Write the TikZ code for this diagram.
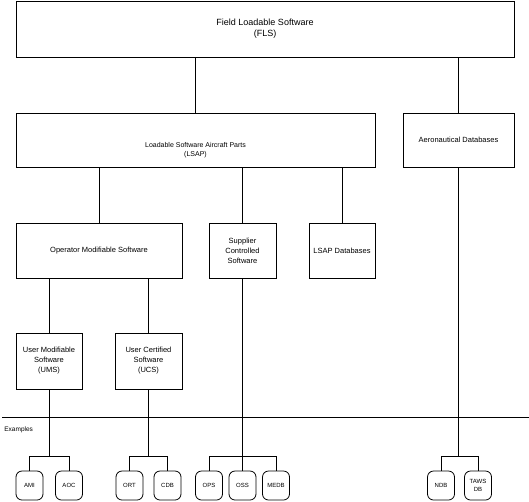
\documentclass[tikz,border=0pt]{standalone}
\usepackage{fontspec}
\setmainfont{Liberation Sans}
\usepackage{tikz}

\begin{document}
\begin{tikzpicture}[
            x=1pt, y=-1pt,
            line width=0.8pt,
            every node/.style={inner sep=1pt, align=center, font=\fontsize{7.5}{10}\selectfont},
            box/.style={draw, rectangle},
            leaf/.style={draw, rectangle, rounded corners=6pt, minimum width=27pt,
                minimum height=29pt, font=\fontsize{6}{8}\selectfont}
        ]
        \useasboundingbox (0,0) rectangle (529,501);
        \node[box, minimum width=498pt, minimum height=56pt, font=\fontsize{9}{11}\selectfont]
            (FLS) at (265,29) {Field Loadable Software\\(FLS)};
        \node[box, minimum width=359pt, minimum height=54pt,
            label={[yshift=-10pt, font=\fontsize{7}{9.5}\selectfont]center:Loadable Software Aircraft Parts\\(LSAP)}]
            (LSAP) at (195.5,140) {};
        \node[box, minimum width=111pt, minimum height=54pt] (AERO) at (458.5,140) {Aeronautical Databases};
        \node[box, minimum width=166pt, minimum height=55pt] (OMS) at (99,250.5) {Operator Modifiable Software};
        \node[box, minimum width=67pt, minimum height=55pt] (SCS) at (242.5,250.5) {Supplier\\Controlled\\Software};
        \node[box, minimum width=66pt, minimum height=55pt] (LDB) at (342,250.5) {LSAP Databases};
        \node[box, minimum width=66pt, minimum height=56pt] (UMS) at (49,361) {User Modifiable\\Software\\(UMS)};
        \node[box, minimum width=67pt, minimum height=56pt] (UCS) at (148.5,361) {User Certified\\Software\\(UCS)};

        % Examples row
        \coordinate (sepl) at (2,417);
        \coordinate (sepr) at (529,417);
        \coordinate (brk) at (0,456);
        \draw (sepl) -- (sepr);
        \node[anchor=west, font=\fontsize{6.5}{8}\selectfont] (EX) at (3,430) {Examples};
        \node[leaf] (AMI) at (29.5,485.5) {AMI};
        \node[leaf] (AOC) at (69,485.5) {AOC};
        \node[leaf] (ORT) at (129.5,485.5) {ORT};
        \node[leaf] (CDB) at (167.5,485.5) {CDB};
        \node[leaf] (OPS) at (209,485.5) {OPS};
        \node[leaf] (OSS) at (242.5,485.5) {OSS};
        \node[leaf] (MEDB) at (276,485.5) {MEDB};
        \node[leaf] (NDB) at (441,485.5) {NDB};
        \node[leaf] (TAWS) at (478,485.5) {TAWS\\DB};

        % Connect the levels
        \foreach \a/\b in {FLS/LSAP, FLS/AERO, LSAP/OMS, LSAP/SCS, LSAP/LDB, OMS/UMS, OMS/UCS}
            \draw (\b.north) -- (\b.north |- \a.south);
        \foreach \p/\l/\r in {UMS/AMI/AOC, UCS/ORT/CDB, SCS/OPS/MEDB, AERO/NDB/TAWS}
            \draw (\p.south) -- (\p.south |- brk) (\l.north) |- (\p.south |- brk) -| (\r.north);
        \draw (OSS.north) -- (OSS.north |- brk);
        \end{tikzpicture}
\end{document}
